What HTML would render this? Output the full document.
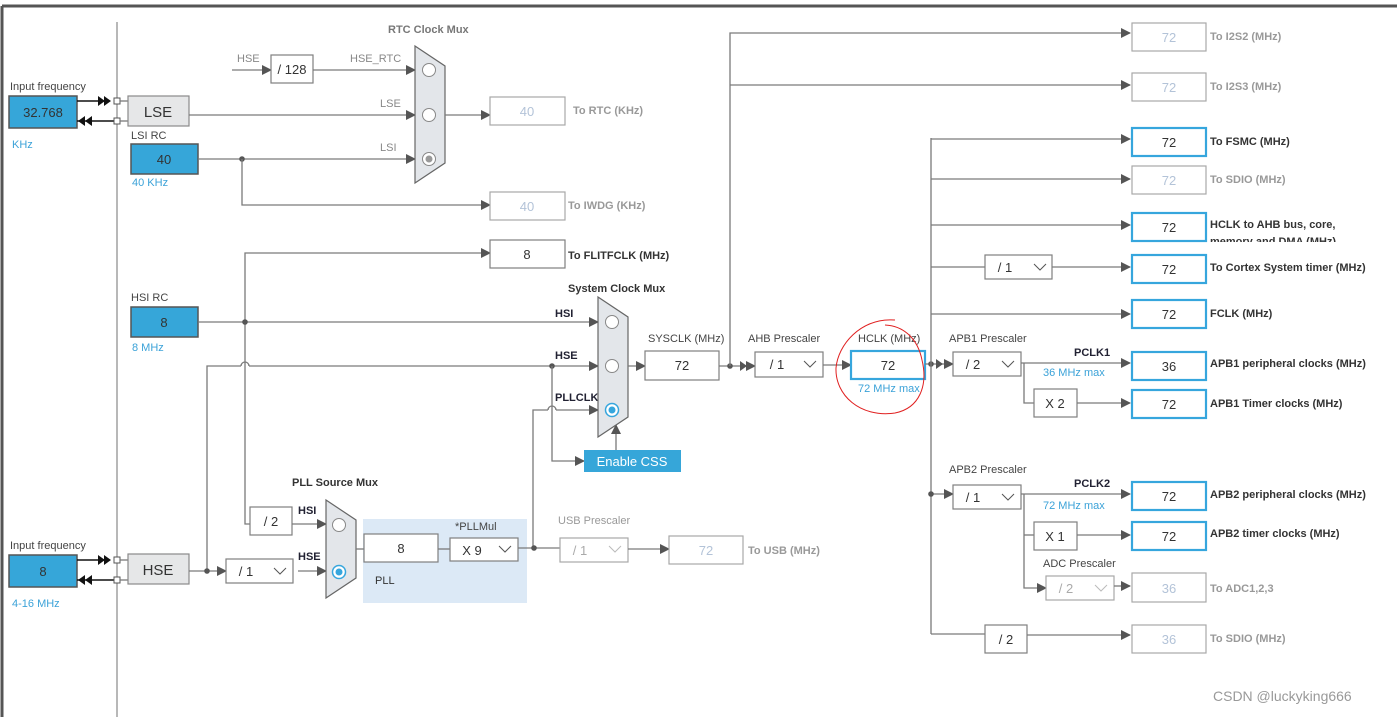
<!DOCTYPE html>
<html><head><meta charset="utf-8"><style>
html,body{margin:0;padding:0;background:#fff;}
svg{display:block;font-family:"Liberation Sans",sans-serif;}
.l{stroke:#7a7a7a;stroke-width:1.3;fill:none;}
.b{fill:#fff;stroke:#7f7f7f;stroke-width:1.2;}
.bb{fill:#fff;stroke:#36a6dd;stroke-width:2.2;}
.bl{fill:#fff;stroke:#a8a8a8;stroke-width:1.2;}
.blue{fill:#36a6d9;stroke:#555;stroke-width:1.5;}
.g{fill:#e6e7e8;stroke:#8a8a8a;stroke-width:1.2;}
.t{font-size:11px;fill:#444;}
.tb{font-size:11px;fill:#333;font-weight:bold;}
.tl{font-size:11px;fill:#999;font-weight:bold;}
.tc{font-size:11px;fill:#3ba2d8;}
.v{font-size:13px;fill:#333;text-anchor:middle;}
.vl{font-size:13px;fill:#b3c3d8;text-anchor:middle;}
.mux{fill:#e3e6ea;stroke:#666;stroke-width:1.2;}
.dot{fill:#555;}
</style></head><body>
<svg width="1397" height="717" viewBox="0 0 1397 717">
<defs>
<marker id="a" markerUnits="userSpaceOnUse" markerWidth="10" markerHeight="10" refX="9" refY="5" orient="auto"><path d="M0,0 L10,5 L0,10 z" fill="#555"/></marker>
</defs>
<line x1="2" y1="6" x2="1397" y2="6" stroke="#555" stroke-width="3"/>
<line x1="2" y1="6" x2="2" y2="717" stroke="#555" stroke-width="3"/>
<line x1="117" y1="22" x2="117" y2="717" stroke="#888" stroke-width="1.2"/>

<text x="10" y="90" class="t">Input frequency</text>
<rect x="9" y="96" width="68" height="32" class="blue"/>
<text x="43" y="117" class="v">32.768</text>
<text x="12" y="148" class="tc">KHz</text>
<line x1="77" y1="101" x2="108" y2="101" stroke="#111" stroke-width="1.5"/>
<path d="M98,96 L105,101 L98,106z M104,96 L111,101 L104,106z" fill="#111"/>
<line x1="77" y1="121" x2="114" y2="121" stroke="#111" stroke-width="1.5"/>
<path d="M85,116 L78,121 L85,126z M92,116 L85,121 L92,126z" fill="#111"/>
<rect x="114" y="98" width="6" height="6" fill="#fff" stroke="#555"/>
<rect x="114" y="118" width="6" height="6" fill="#fff" stroke="#555"/>
<line x1="120" y1="101" x2="128" y2="101" class="l"/>
<line x1="120" y1="121" x2="128" y2="121" class="l"/>
<rect x="128" y="96" width="61" height="30" class="g"/>
<text x="158" y="117" class="v" style="font-size:15px">LSE</text>

<text x="388" y="33" class="tl" style="fill:#777">RTC Clock Mux</text>
<text x="237" y="62" class="t" style="fill:#888">HSE</text>
<line x1="232" y1="70" x2="271" y2="70" class="l" marker-end="url(#a)"/>
<rect x="271" y="55" width="42" height="28" class="b"/>
<text x="292" y="74" class="v">/ 128</text>
<text x="350" y="62" class="t" style="fill:#888">HSE_RTC</text>
<line x1="313" y1="70" x2="415" y2="70" class="l" marker-end="url(#a)"/>
<text x="380" y="107" class="t" style="fill:#888">LSE</text>
<line x1="189" y1="115" x2="415" y2="115" class="l" marker-end="url(#a)"/>
<text x="131" y="139" class="t">LSI RC</text>
<rect x="131" y="144" width="67" height="30" class="blue"/>
<text x="164" y="164" class="v">40</text>
<text x="132" y="186" class="tc">40 KHz</text>
<text x="380" y="151" class="t" style="fill:#888">LSI</text>
<line x1="198" y1="159" x2="415" y2="159" class="l" marker-end="url(#a)"/>
<circle cx="242" cy="159" r="2.8" class="dot"/>
<polyline points="242,159 242,205 490,205" class="l" marker-end="url(#a)"/>
<path d="M415,46 L445,66 L445,163 L415,183 Z" class="mux"/>
<circle cx="429" cy="70" r="6.5" fill="#fff" stroke="#888"/>
<circle cx="429" cy="115" r="6.5" fill="#fff" stroke="#888"/>
<circle cx="429" cy="159" r="6.5" fill="#fff" stroke="#888"/><circle cx="429" cy="159" r="3.5" fill="#999"/>
<line x1="445" y1="115" x2="490" y2="115" class="l" marker-end="url(#a)"/>
<rect x="490" y="97" width="75" height="28" class="bl"/><text x="527" y="116" class="vl">40</text>
<text x="573" y="114" class="tl">To RTC (KHz)</text>
<rect x="490" y="192" width="75" height="28" class="bl"/><text x="527" y="211" class="vl">40</text>
<text x="568" y="209" class="tl">To IWDG (KHz)</text>

<polyline points="245,518 245,253 490,253" class="l" marker-end="url(#a)"/>
<rect x="490" y="240" width="75" height="28" class="b"/><text x="527" y="259" class="v">8</text>
<text x="568" y="259" class="tb">To FLITFCLK (MHz)</text>
<text x="131" y="301" class="t">HSI RC</text>
<rect x="131" y="307" width="67" height="30" class="blue"/>
<text x="164" y="327" class="v">8</text>
<text x="132" y="351" class="tc">8 MHz</text>
<line x1="198" y1="322" x2="598" y2="322" class="l" marker-end="url(#a)"/>
<circle cx="245" cy="322" r="2.8" class="dot"/>
<text x="555" y="317" class="tb" style="fill:#223">HSI</text>

<polyline points="207,571 207,366 241,366" class="l"/>
<path d="M241,366 A4,4 0 0 1 249,366" class="l"/>
<line x1="249" y1="366" x2="598" y2="366" class="l" marker-end="url(#a)"/>
<circle cx="552" cy="366" r="2.8" class="dot"/>
<text x="555" y="359" class="tb" style="fill:#223">HSE</text>
<text x="555" y="401" class="tb" style="fill:#223">PLLCLK</text>
<polyline points="533,548 533,410 548,410" class="l"/>
<path d="M548,410 A4,4 0 0 1 556,410" class="l"/>
<line x1="556" y1="410" x2="598" y2="410" class="l" marker-end="url(#a)"/>
<polyline points="552,366 552,461 584,461" class="l" marker-end="url(#a)"/>
<rect x="584" y="450" width="97" height="22" fill="#36a6d9"/>
<text x="632" y="466" style="font-size:13px;fill:#fff;text-anchor:middle">Enable CSS</text>
<line x1="616" y1="450" x2="616" y2="425" class="l" marker-end="url(#a)"/>
<text x="568" y="292" class="tb">System Clock Mux</text>
<path d="M598,297 L628,317 L628,417 L598,437 Z" class="mux"/>
<circle cx="612" cy="322" r="6.5" fill="#fff" stroke="#888"/>
<circle cx="612" cy="366" r="6.5" fill="#fff" stroke="#888"/>
<circle cx="612" cy="410" r="6.5" fill="#fff" stroke="#36a6dd" stroke-width="1.5"/><circle cx="612" cy="410" r="3.5" fill="#36a6dd"/>

<line x1="628" y1="366" x2="645" y2="366" class="l" marker-end="url(#a)"/>
<text x="648" y="342" class="t">SYSCLK (MHz)</text>
<rect x="645" y="351" width="74" height="29" class="b"/><text x="682" y="370" class="v">72</text>
<line x1="719" y1="366" x2="755" y2="366" class="l" marker-end="url(#a)"/>
<circle cx="730" cy="366" r="2.8" class="dot"/>
<path d="M740,361 L747,366 L740,371z" fill="#555"/>
<polyline points="730,366 730,33 1130,33" class="l" marker-end="url(#a)"/>
<line x1="730" y1="85" x2="1130" y2="85" class="l" marker-end="url(#a)"/>
<text x="748" y="342" class="t">AHB Prescaler</text>
<rect x="755" y="352" width="68" height="25" class="b"/><text x="777" y="369" class="v">/ 1</text>
<polyline points="804,361 810,367 816,361" fill="none" stroke="#555"/>
<line x1="823" y1="365" x2="851" y2="365" class="l" marker-end="url(#a)"/>
<text x="858" y="342" class="t">HCLK (MHz)</text>
<rect x="851" y="351" width="74" height="28" class="bb"/><text x="888" y="370" class="v">72</text>
<text x="858" y="392" class="tc">72 MHz max</text>
<path d="M895,320 C860,318 838,345 836,368 C835,395 860,418 895,413 C920,408 928,385 922,360 C918,340 905,326 885,325" fill="none" stroke="#e02020" stroke-width="1"/>
<line x1="925" y1="364" x2="953" y2="364" class="l" marker-end="url(#a)"/>
<circle cx="931" cy="364" r="2.8" class="dot"/><path d="M936,359 L943,364 L936,369z" fill="#555"/>
<line x1="931" y1="138" x2="931" y2="634" class="l"/>

<line x1="931" y1="139" x2="1130" y2="139" class="l" marker-end="url(#a)"/>
<line x1="931" y1="179" x2="1130" y2="179" class="l" marker-end="url(#a)"/>
<line x1="931" y1="225" x2="1130" y2="225" class="l" marker-end="url(#a)"/>
<line x1="931" y1="267" x2="985" y2="267" class="l"/>
<line x1="1052" y1="267" x2="1130" y2="267" class="l" marker-end="url(#a)"/>
<rect x="985" y="255" width="67" height="24" class="b"/><text x="1005" y="272" class="v">/ 1</text>
<polyline points="1034,264 1040,270 1046,264" fill="none" stroke="#555"/>
<line x1="931" y1="314" x2="1130" y2="314" class="l" marker-end="url(#a)"/>

<rect x="1132" y="23" width="74" height="28" class="bl"/><text x="1169" y="42" class="vl">72</text><text x="1210" y="40" class="tl">To I2S2 (MHz)</text>
<rect x="1132" y="73" width="74" height="28" class="bl"/><text x="1169" y="92" class="vl">72</text><text x="1210" y="90" class="tl">To I2S3 (MHz)</text>
<rect x="1132" y="128" width="74" height="28" class="bb"/><text x="1169" y="147" class="v">72</text><text x="1210" y="145" class="tb">To FSMC (MHz)</text>
<rect x="1132" y="166" width="74" height="28" class="bl"/><text x="1169" y="185" class="vl">72</text><text x="1210" y="183" class="tl">To SDIO (MHz)</text>
<rect x="1132" y="213" width="74" height="28" class="bb"/><text x="1169" y="232" class="v">72</text><text x="1210" y="228" class="tb">HCLK to AHB bus, core,</text>
<svg x="1208" y="232" width="180" height="10"><text x="2" y="13" class="tb">memory and DMA (MHz)</text></svg>
<rect x="1132" y="255" width="74" height="28" class="bb"/><text x="1169" y="274" class="v">72</text><text x="1210" y="271" class="tb">To Cortex System timer (MHz)</text>
<rect x="1132" y="300" width="74" height="28" class="bb"/><text x="1169" y="319" class="v">72</text><text x="1210" y="317" class="tb">FCLK (MHz)</text>

<text x="949" y="342" class="t">APB1 Prescaler</text>
<rect x="953" y="352" width="68" height="24" class="b"/><text x="973" y="369" class="v">/ 2</text>
<polyline points="1002,361 1008,367 1014,361" fill="none" stroke="#555"/>
<line x1="1021" y1="363" x2="1130" y2="363" class="l" marker-end="url(#a)"/>
<text x="1074" y="356" class="tb" style="fill:#223">PCLK1</text>
<text x="1043" y="376" class="tc">36 MHz max</text>
<rect x="1132" y="352" width="74" height="28" class="bb"/><text x="1169" y="371" class="v">36</text><text x="1210" y="367" class="tb">APB1 peripheral clocks (MHz)</text>
<polyline points="1024,363 1024,403 1034,403" class="l"/>
<rect x="1034" y="389" width="43" height="28" class="b"/><text x="1055" y="408" class="v">X 2</text>
<line x1="1077" y1="403" x2="1130" y2="403" class="l" marker-end="url(#a)"/>
<rect x="1132" y="390" width="74" height="28" class="bb"/><text x="1169" y="409" class="v">72</text><text x="1210" y="407" class="tb">APB1 Timer clocks (MHz)</text>

<text x="949" y="473" class="t">APB2 Prescaler</text>
<line x1="931" y1="494" x2="953" y2="494" class="l" marker-end="url(#a)"/>
<circle cx="931" cy="494" r="2.8" class="dot"/>
<rect x="953" y="485" width="68" height="24" class="b"/><text x="973" y="502" class="v">/ 1</text>
<polyline points="1002,494 1008,500 1014,494" fill="none" stroke="#555"/>
<line x1="1021" y1="494" x2="1130" y2="494" class="l" marker-end="url(#a)"/>
<text x="1074" y="487" class="tb" style="fill:#223">PCLK2</text>
<text x="1043" y="509" class="tc">72 MHz max</text>
<rect x="1132" y="482" width="74" height="28" class="bb"/><text x="1169" y="501" class="v">72</text><text x="1210" y="498" class="tb">APB2 peripheral clocks (MHz)</text>
<polyline points="1024,494 1024,588 1046,588" class="l" marker-end="url(#a)"/>
<line x1="1024" y1="535" x2="1034" y2="535" class="l"/>
<rect x="1034" y="522" width="43" height="28" class="b"/><text x="1055" y="541" class="v">X 1</text>
<line x1="1077" y1="535" x2="1130" y2="535" class="l" marker-end="url(#a)"/>
<rect x="1132" y="522" width="74" height="28" class="bb"/><text x="1169" y="541" class="v">72</text><text x="1210" y="537" class="tb">APB2 timer clocks (MHz)</text>
<text x="1043" y="567" class="t">ADC Prescaler</text>
<rect x="1046" y="576" width="68" height="24" class="bl"/><text x="1066" y="593" class="vl" style="fill:#aaa">/ 2</text>
<polyline points="1095,585 1101,591 1107,585" fill="none" stroke="#bbb"/>
<line x1="1114" y1="586" x2="1130" y2="586" class="l" marker-end="url(#a)"/>
<rect x="1132" y="573" width="74" height="29" class="bl"/><text x="1169" y="593" class="vl">36</text><text x="1210" y="592" class="tl">To ADC1,2,3</text>
<polyline points="931,634 985,634" class="l"/>
<rect x="985" y="625" width="42" height="28" class="b"/><text x="1006" y="644" class="v">/ 2</text>
<line x1="1027" y1="635" x2="1130" y2="635" class="l" marker-end="url(#a)"/>
<rect x="1132" y="625" width="74" height="28" class="bl"/><text x="1169" y="644" class="vl">36</text><text x="1210" y="642" class="tl">To SDIO (MHz)</text>

<text x="10" y="549" class="t">Input frequency</text>
<rect x="9" y="555" width="68" height="32" class="blue"/>
<text x="43" y="576" class="v">8</text>
<text x="12" y="607" class="tc">4-16 MHz</text>
<line x1="77" y1="560" x2="108" y2="560" stroke="#111" stroke-width="1.5"/>
<path d="M98,555 L105,560 L98,565z M104,555 L111,560 L104,565z" fill="#111"/>
<line x1="77" y1="580" x2="114" y2="580" stroke="#111" stroke-width="1.5"/>
<path d="M85,575 L78,580 L85,585z M92,575 L85,580 L92,585z" fill="#111"/>
<rect x="114" y="557" width="6" height="6" fill="#fff" stroke="#555"/>
<rect x="114" y="577" width="6" height="6" fill="#fff" stroke="#555"/>
<line x1="120" y1="560" x2="128" y2="560" class="l"/>
<line x1="120" y1="580" x2="128" y2="580" class="l"/>
<rect x="128" y="554" width="61" height="30" class="g"/>
<text x="158" y="575" class="v" style="font-size:15px">HSE</text>
<line x1="189" y1="571" x2="226" y2="571" class="l" marker-end="url(#a)"/>
<circle cx="207" cy="571" r="2.8" class="dot"/>
<rect x="226" y="559" width="67" height="24" class="b"/><text x="246" y="576" class="v">/ 1</text>
<polyline points="274,568 280,574 286,568" fill="none" stroke="#555"/>
<line x1="298" y1="571" x2="326" y2="571" class="l" marker-end="url(#a)"/>
<text x="298" y="560" class="tb" style="fill:#223">HSE</text>
<polyline points="245,518 245,524 250,524" class="l"/>
<rect x="250" y="507" width="42" height="28" class="b"/><text x="271" y="526" class="v">/ 2</text>
<line x1="292" y1="524" x2="326" y2="524" class="l" marker-end="url(#a)"/>
<text x="298" y="514" class="tb" style="fill:#223">HSI</text>
<text x="292" y="486" class="tb">PLL Source Mux</text>
<rect x="363" y="519" width="164" height="84" fill="#dce9f6"/>
<path d="M326,500 L356,520 L356,578 L326,598 Z" class="mux"/>
<circle cx="339" cy="525" r="6.5" fill="#fff" stroke="#888"/>
<circle cx="339" cy="572" r="6.5" fill="#fff" stroke="#36a6dd" stroke-width="1.5"/><circle cx="339" cy="572" r="3.5" fill="#36a6dd"/>
<line x1="356" y1="549" x2="364" y2="549" class="l"/>
<rect x="364" y="534" width="74" height="28" class="b"/><text x="401" y="553" class="v">8</text>
<line x1="438" y1="549" x2="450" y2="549" class="l"/>
<text x="455" y="530" class="t">*PLLMul</text>
<rect x="450" y="538" width="68" height="23" class="b"/><text x="472" y="555" class="v">X 9</text>
<polyline points="499,546 505,552 511,546" fill="none" stroke="#555"/>
<text x="375" y="584" class="t" style="fill:#333">PLL</text>
<line x1="518" y1="548" x2="560" y2="548" class="l"/>
<circle cx="534" cy="548" r="2.8" class="dot"/>
<text x="558" y="524" class="t" style="fill:#999">USB Prescaler</text>
<rect x="560" y="538" width="68" height="24" class="bl"/><text x="580" y="555" class="vl" style="fill:#aaa">/ 1</text>
<polyline points="609,546 615,552 621,546" fill="none" stroke="#bbb"/>
<line x1="628" y1="549" x2="669" y2="549" class="l" marker-end="url(#a)"/>
<rect x="669" y="536" width="74" height="28" class="bl"/><text x="706" y="555" class="vl">72</text>
<text x="748" y="554" class="tl">To USB (MHz)</text>

<text x="1213" y="701" style="font-size:14px;fill:#999">CSDN @luckyking666</text>
</svg>
</body></html>
